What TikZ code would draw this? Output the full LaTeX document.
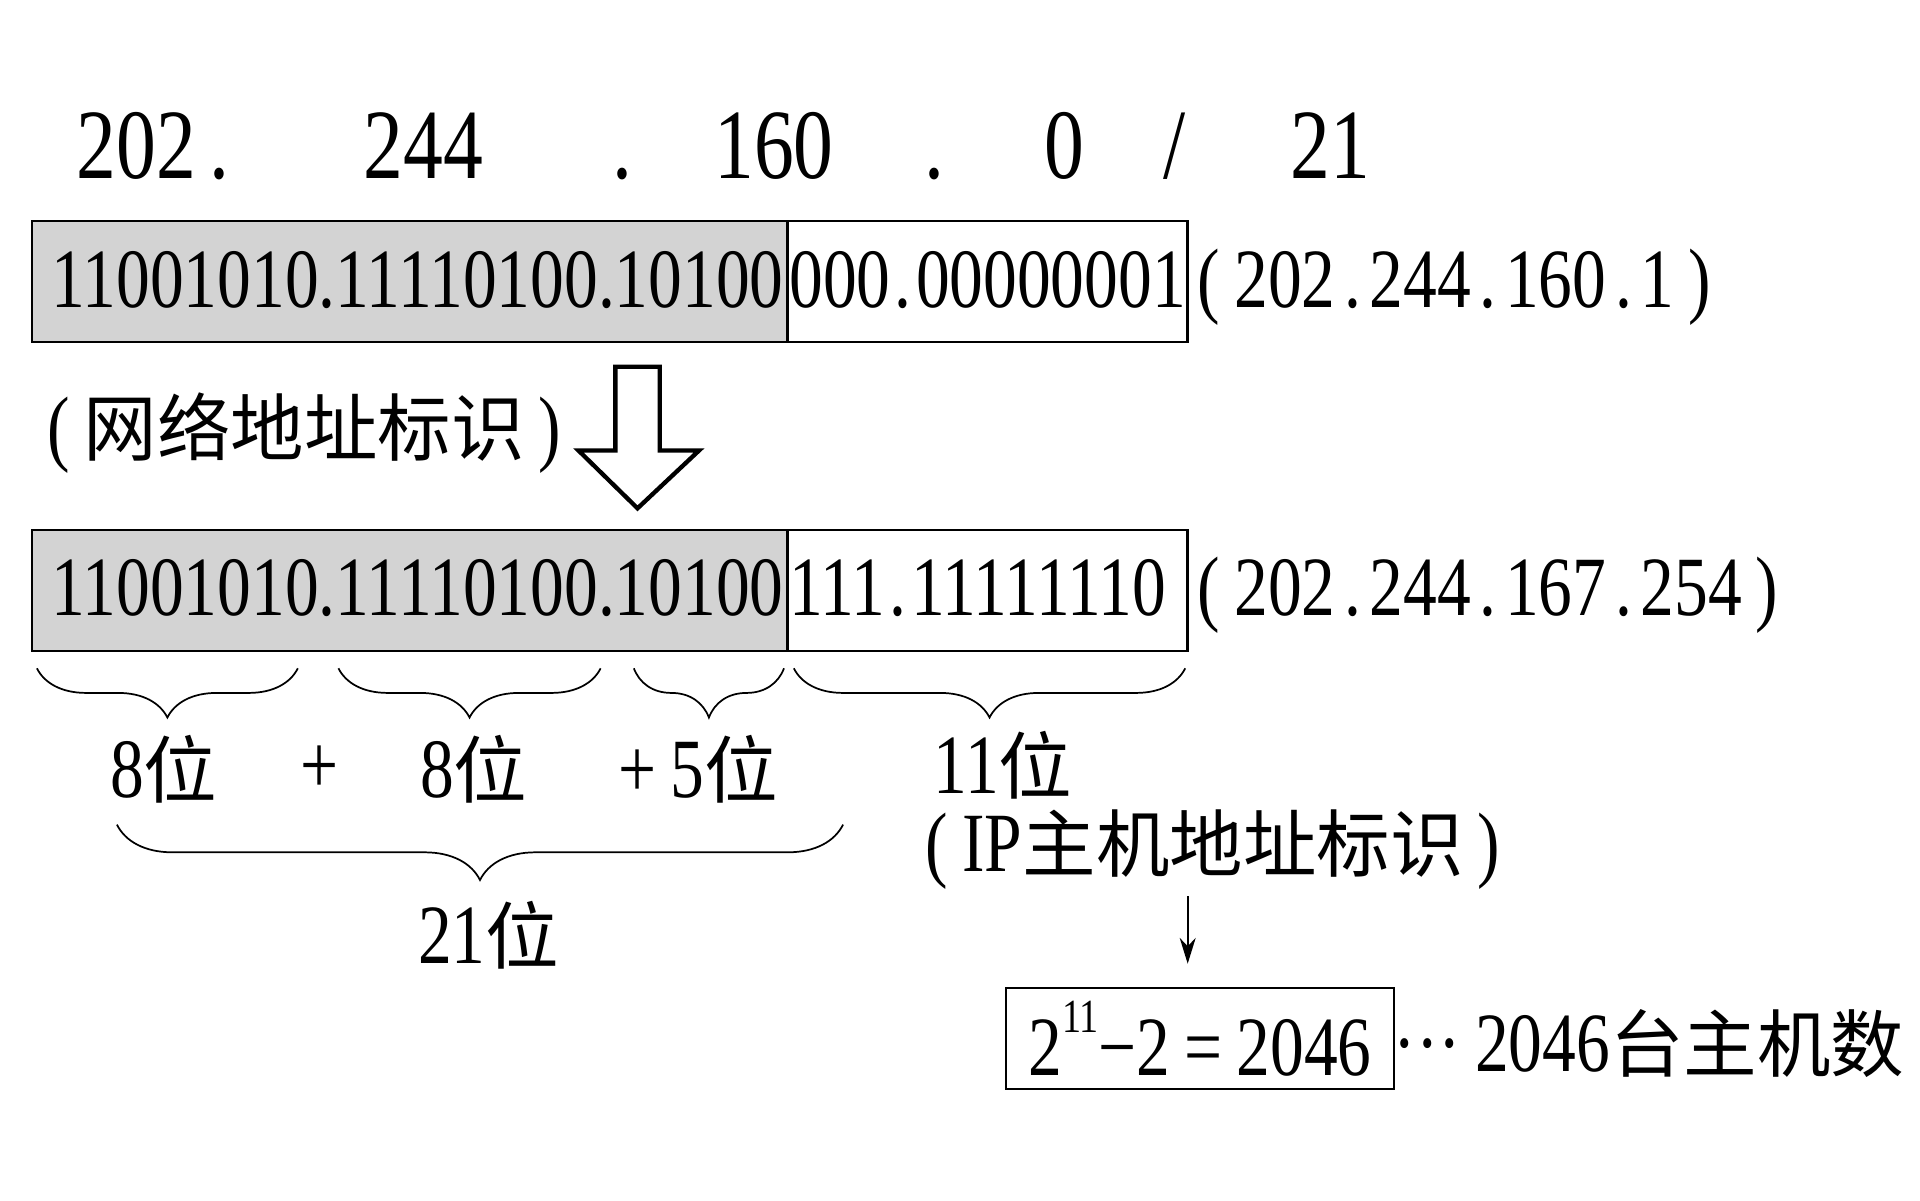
\documentclass[tikz,border=0pt]{standalone}
\usepackage{fontspec}
\setmainfont[FakeStretch=0.8]{Liberation Serif}
\newfontfamily\cjk{Noto Sans CJK SC}
\usetikzlibrary{decorations.pathreplacing,arrows.meta}
\definecolor{netgray}{HTML}{D3D3D3}
\newcommand\numsize{\fontsize{39}{42}\selectfont}
\newcommand\topsize{\fontsize{46}{50}\selectfont}
\newcommand\zh[1]{{\cjk\fontsize{34}{36}\selectfont #1}}
\newcommand\dt{\kern4pt.\kern4pt}

\begin{document}
\begin{tikzpicture}[x=0.02cm,y=-0.02cm]
\tikzstyle{netbox}=[draw,line width=1pt,fill=netgray,anchor=north west,minimum width=12.28cm,minimum height=1.96cm,inner sep=0pt]
\tikzstyle{hostbox}=[draw,line width=1pt,fill=white,anchor=north west,minimum width=6.5cm,minimum height=1.96cm,inner sep=0pt]
\tikzstyle{num}=[inner sep=0pt,font=\numsize]
\tikzstyle{big}=[inner sep=0pt,font=\topsize,anchor=base west]
\tikzstyle{brc}=[decorate,decoration={brace,mirror,amplitude=0.8cm},line width=0.8pt]
\useasboundingbox (0,0) rectangle (1560,975);
\foreach \name/\x/\t in {t1/62/202\kern6pt.,t2/295/244,t3/497/.,t4/580/160,t5/751/.,t6/848/0,t7/945/\slash,t8/1048/21}
  \node[big] (\name) at (\x,145) {\t};
\node[netbox] (net1) at (25,179) {};
\node[hostbox] (host1) at (639,179) {};
\node[num,anchor=base east] (bin1) at (637,250) {11001010.11110100.10100};
\node[num,anchor=base west] (hst1) at (641,250) {000\kern2pt.\kern2pt00000001};
\node[num,anchor=base west] (dec1) at (973,250) {(\,202\dt244\dt160\dt1\,)};
\node[num,anchor=west] (netid) at (38,352) {(\,\zh{网络地址标识}\,)};
\draw[line width=2pt,fill=white] (500,298) -- (536,298) -- (536,366) -- (568,366) -- (518,413) -- (470,366) -- (500,366) -- cycle;
\node[netbox] (net2) at (25,430) {};
\node[hostbox] (host2) at (639,430) {};
\node[num,anchor=base east] (bin2) at (637,500) {11001010.11110100.10100};
\node[num,anchor=base west] (hst2) at (641,500) {111\kern2pt.\kern2pt11111110};
\node[num,anchor=base west] (dec2) at (973,500) {(\,202\dt244\dt167\dt254\,)};
\foreach \a/\b in {30/242,275/488,515/637,645/963}
  \draw[brc] (\a,543) -- (\b,543);
\draw[brc,decoration={amplitude=0.9cm}] (95,670) -- (685,670);
\node[num] (w1) at (133,625) {8\zh{位}};
\node[num] (w2) at (260,625) {+};
\node[num] (w3) at (385,625) {8\zh{位}};
\node[num] (w4) at (567,625) {+\,5\zh{位}};
\node[num] (w5) at (815,622) {11\zh{位}};
\node[num] (w21) at (397,760) {21\zh{位}};
\node[num,anchor=west] (hostid) at (752,690) {(\,IP\zh{主机地址标识}\,)};
\node[draw,line width=1pt,minimum width=6.3cm,minimum height=1.64cm,inner sep=0pt,font=\numsize] (eq) at (975,844) {2\raisebox{0.5em}{\fontsize{22}{22}\selectfont 11}−2\,=\,2046};
\node[num,anchor=west] (cnt) at (1132,848) {···\,2046\zh{台主机数}};
\coordinate (a1) at (965,728);
\coordinate (a2) at (965,783);
\draw[-{Stealth[length=0.42cm,width=0.26cm]},line width=0.8pt] (a1) -- (a2);
\end{tikzpicture}
\end{document}
